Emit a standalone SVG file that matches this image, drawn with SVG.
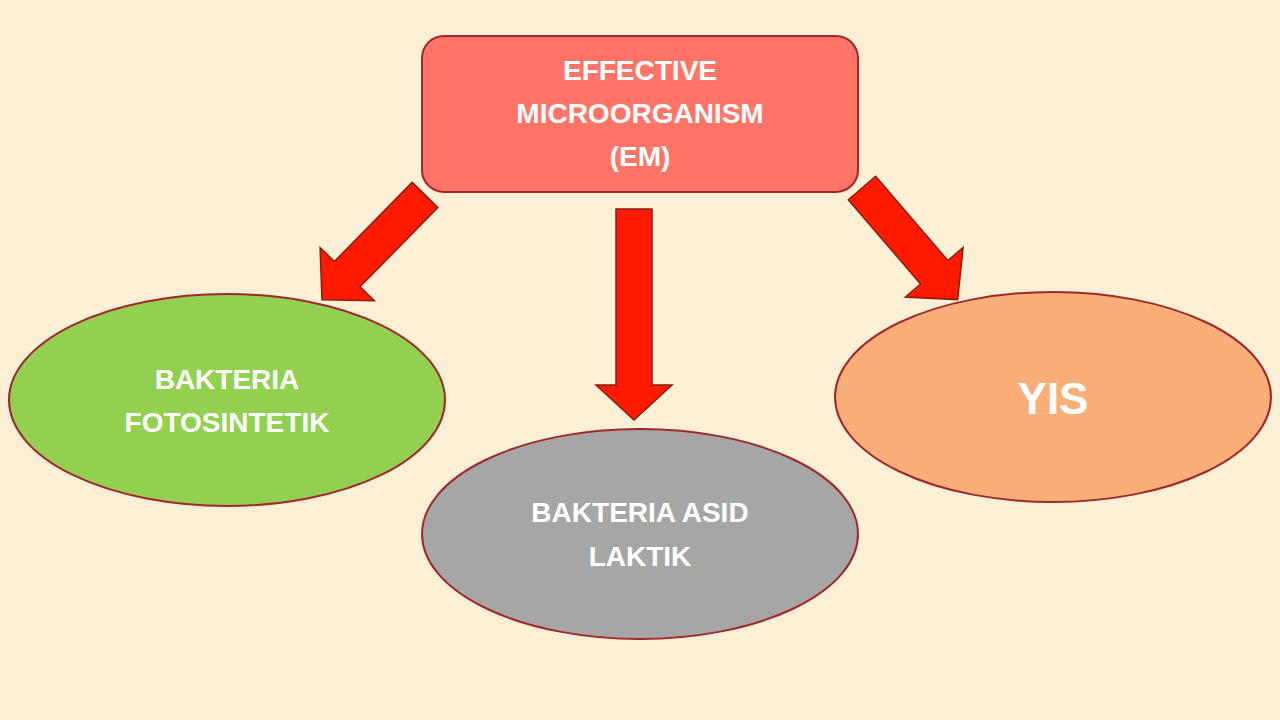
<svg xmlns="http://www.w3.org/2000/svg" width="1280" height="720" viewBox="0 0 1280 720">
<style>
.t{font-family:"Liberation Sans",Arial,sans-serif;font-weight:bold;fill:#fff;text-anchor:middle}
.arr{fill:#FF1A00;stroke:#8B1A10;stroke-width:1.5}
.n{stroke:#A0282A;stroke-width:2}
</style>
<rect width="1280" height="720" fill="#FBEFD6"/>
<g id="connectors">
<polygon class="arr" transform="translate(425,195) rotate(44.5)" points="-18,0 18,0 18,111 38,111 0,147 -38,111 -18,111"/>
<polygon class="arr" transform="translate(634,209)" points="-18,0 18,0 18,176 38,176 0,211 -38,176 -18,176"/>
<polygon class="arr" transform="translate(862,188) rotate(-40.6)" points="-18,0 18,0 18,111 38,111 0,147 -38,111 -18,111"/>
</g>
<g id="em">
<rect class="n" x="422" y="36" width="436" height="156" rx="22" fill="#FF7466"/>
<text class="t" x="640" y="80" font-size="28">EFFECTIVE</text>
<text class="t" x="640" y="123" font-size="28">MICROORGANISM</text>
<text class="t" x="640" y="166" font-size="28">(EM)</text>
</g>
<g id="fotosintetik">
<ellipse class="n" cx="227" cy="400" rx="218" ry="106" fill="#92D050"/>
<text class="t" x="227" y="389" font-size="28">BAKTERIA</text>
<text class="t" x="227" y="432" font-size="28">FOTOSINTETIK</text>
</g>
<g id="laktik">
<ellipse class="n" cx="640" cy="534" rx="218" ry="105" fill="#A6A6A6"/>
<text class="t" x="640" y="522" font-size="28">BAKTERIA ASID</text>
<text class="t" x="640" y="566" font-size="28">LAKTIK</text>
</g>
<g id="yis">
<ellipse class="n" cx="1053" cy="397" rx="218" ry="105" fill="#F9AE78"/>
<text class="t" x="1053" y="414" font-size="44">YIS</text>
</g>
</svg>
